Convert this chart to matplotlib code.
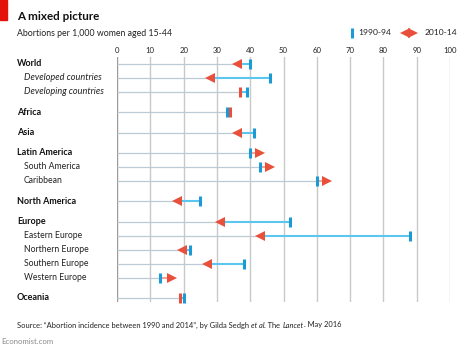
import matplotlib
matplotlib.use("Agg")
import matplotlib.pyplot as plt
import numpy as np

plt.rcParams.update({'font.family': 'Lato', 'font.size': 7})

# data: abortions per 1,000 women aged 15-44
groups = ["World", "Africa", "Asia", "Latin America", "North America", "Europe", "Oceania"]
subregions = {
    "World": ["Developed countries", "Developing countries"],
    "Latin America": ["South America", "Caribbean"],
    "Europe": ["Eastern Europe", "Northern Europe", "Southern Europe", "Western Europe"],
}
rate_1990 = {
    "World": 40, "Developed countries": 46, "Developing countries": 39,
    "Africa": 33, "Asia": 41,
    "Latin America": 40, "South America": 43, "Caribbean": 60,
    "North America": 25,
    "Europe": 52, "Eastern Europe": 88, "Northern Europe": 22,
    "Southern Europe": 38, "Western Europe": 13,
    "Oceania": 20,
}
rate_2010 = {
    "World": 36, "Developed countries": 28, "Developing countries": 37,
    "Africa": 34, "Asia": 36,
    "Latin America": 43, "South America": 46, "Caribbean": 63,
    "North America": 18,
    "Europe": 31, "Eastern Europe": 43, "Northern Europe": 19.5,
    "Southern Europe": 27, "Western Europe": 16.5,
    "Oceania": 19,
}
x_ticks = [0, 10, 20, 30, 40, 50, 60, 70, 80, 90, 100]

BLUE = "#1b9ad6"
RED = "#e8503c"
LIGHT_BLUE = "#5cc6ef"
SALMON = "#f3a596"
ROW_GREY = "#bccbd3"

W, H = 474, 349


def fx(px):
    return px / W


def fy(py):
    return 1 - py / H


fig = plt.figure(figsize=(W / 100, H / 100), dpi=100)
renderer = fig.canvas.get_renderer()


def text_width(s, **kw):
    # pad with a bar so trailing spaces are counted
    t1 = fig.text(0, 0, s + "|", **kw)
    t2 = fig.text(0, 0, "|", **kw)
    w = t1.get_window_extent(renderer).width - t2.get_window_extent(renderer).width
    t1.remove()
    t2.remove()
    return w


def fit_size(sample, width_px, **kw):
    # font size that makes `sample` about width_px wide
    return 10 * width_px / text_width(sample, fontsize=10, **kw)


fs_head = fit_size("North America", 59, fontweight="bold")
fs_sub = fit_size("Eastern Europe", 58.5)
fs_ital = fit_size("Developing countries", 80, style="italic")
fs_title = fit_size("A mixed picture", 82, fontweight="bold")
fs_subtitle = fit_size("Abortions per 1,000 women aged 15-44", 155)
fs_legend = fit_size("1990-94", 32.5)
fs_tick = fit_size("100", 13.5)
fs_econ = fit_size("Economist.com", 52)

# build row layout
rows = []
y = 0.0
for g in groups:
    rows.append((g, y, "head"))
    y += 1
    for s in subregions.get(g, []):
        rows.append((s, y, "italic" if g == "World" else "sub"))
        y += 1
    y += 0.45
last_y = rows[-1][1]

ax = fig.add_axes([fx(117), fy(302), fx(450) - fx(117), (302 - 57) / H])
ax.set_xlim(0, 100)
ax.set_ylim(last_y + 0.3, -0.5)
for s in ax.spines.values():
    s.set_visible(False)
ax.set_yticks([])
ax.xaxis.tick_top()
ax.set_xticks(x_ticks)
ax.set_xticklabels([str(t) for t in x_ticks], fontsize=fs_tick, color="#222222")
ax.tick_params(axis="x", length=0, pad=2)
for t in x_ticks:
    ax.axvline(t, color="#9a9a9a" if t == 0 else "#c9c9c9", lw=1.0, zorder=0)

for name, yy, kind in rows:
    a = rate_1990[name]
    b = rate_2010[name]
    lo = min(a, b)
    ax.plot([0, lo], [yy, yy], color=ROW_GREY, lw=0.9, zorder=1, solid_capstyle="butt")
    ax.plot([a, b], [yy, yy], color=LIGHT_BLUE if b < a else SALMON, lw=1.5,
            zorder=2, solid_capstyle="butt")
    if abs(a - b) <= 2:
        ax.plot([b], [yy], marker="|", ms=7, mew=2.2, color=RED, zorder=3, clip_on=False)
    else:
        ax.plot([b], [yy], marker="<" if b < a else ">", ms=6.5, mew=0, color=RED,
                zorder=3, clip_on=False)
    ax.plot([a], [yy], marker="|", ms=7, mew=2.2, color=BLUE, zorder=4, clip_on=False)

    # row labels in figure coordinates
    disp = ax.transData.transform((0, yy))
    ly = fig.transFigure.inverted().transform(disp)[1]
    if kind == "head":
        fig.text(fx(17), ly, name, fontsize=fs_head, fontweight="bold", va="center", color="#111111")
    elif kind == "italic":
        fig.text(fx(24), ly, name, fontsize=fs_ital, style="italic", va="center", color="#222222")
    else:
        fig.text(fx(24), ly, name, fontsize=fs_sub, va="center", color="#222222")

# header
fig.patches.append(plt.Rectangle((0, fy(20)), fx(7), 20 / H, transform=fig.transFigure,
                                 color="#e3120b", zorder=5))
fig.text(fx(17), fy(17), "A mixed picture", fontsize=fs_title, fontweight="bold", va="center", color="#111111")
fig.text(fx(17), fy(33), "Abortions per 1,000 women aged 15-44", fontsize=fs_subtitle, va="center", color="#222222")

# legend
fig.lines.append(plt.Line2D([fx(352)], [fy(32.5)], marker="|", ms=7, mew=2.2, color=BLUE,
                            transform=fig.transFigure))
fig.text(fx(358), fy(32.5), "1990-94", fontsize=fs_legend, va="center", color="#222222")
fig.lines.append(plt.Line2D([fx(405)], [fy(32.5)], marker="<", ms=6.5, mew=0, color=RED,
                            transform=fig.transFigure))
fig.lines.append(plt.Line2D([fx(413)], [fy(32.5)], marker=">", ms=6.5, mew=0, color=RED,
                            transform=fig.transFigure))
fig.text(fx(424.5), fy(32.5), "2010-14", fontsize=fs_legend, va="center", color="#222222")

# source line with mixed styles
parts = [
    ("Source: \u201cAbortion incidence between 1990 and 2014\u201d, by Gilda Sedgh ", "normal"),
    ("et al", "italic"),
    (". The ", "normal"),
    ("Lancet", "italic"),
    (". May 2016", "normal"),
]
full = "".join(p for p, _ in parts)
fs_src = fit_size(full, 326)
x0 = 17
for txt, st in parts:
    fig.text(fx(x0), fy(325), txt, fontsize=fs_src, style=st, va="center", color="#222222")
    x0 += text_width(txt, fontsize=fs_src, style=st)

fig.text(fx(1), fy(342), "Economist.com", fontsize=fs_econ, va="center", color="#8a8a8a")

fig.savefig("out.png", dpi=100)
